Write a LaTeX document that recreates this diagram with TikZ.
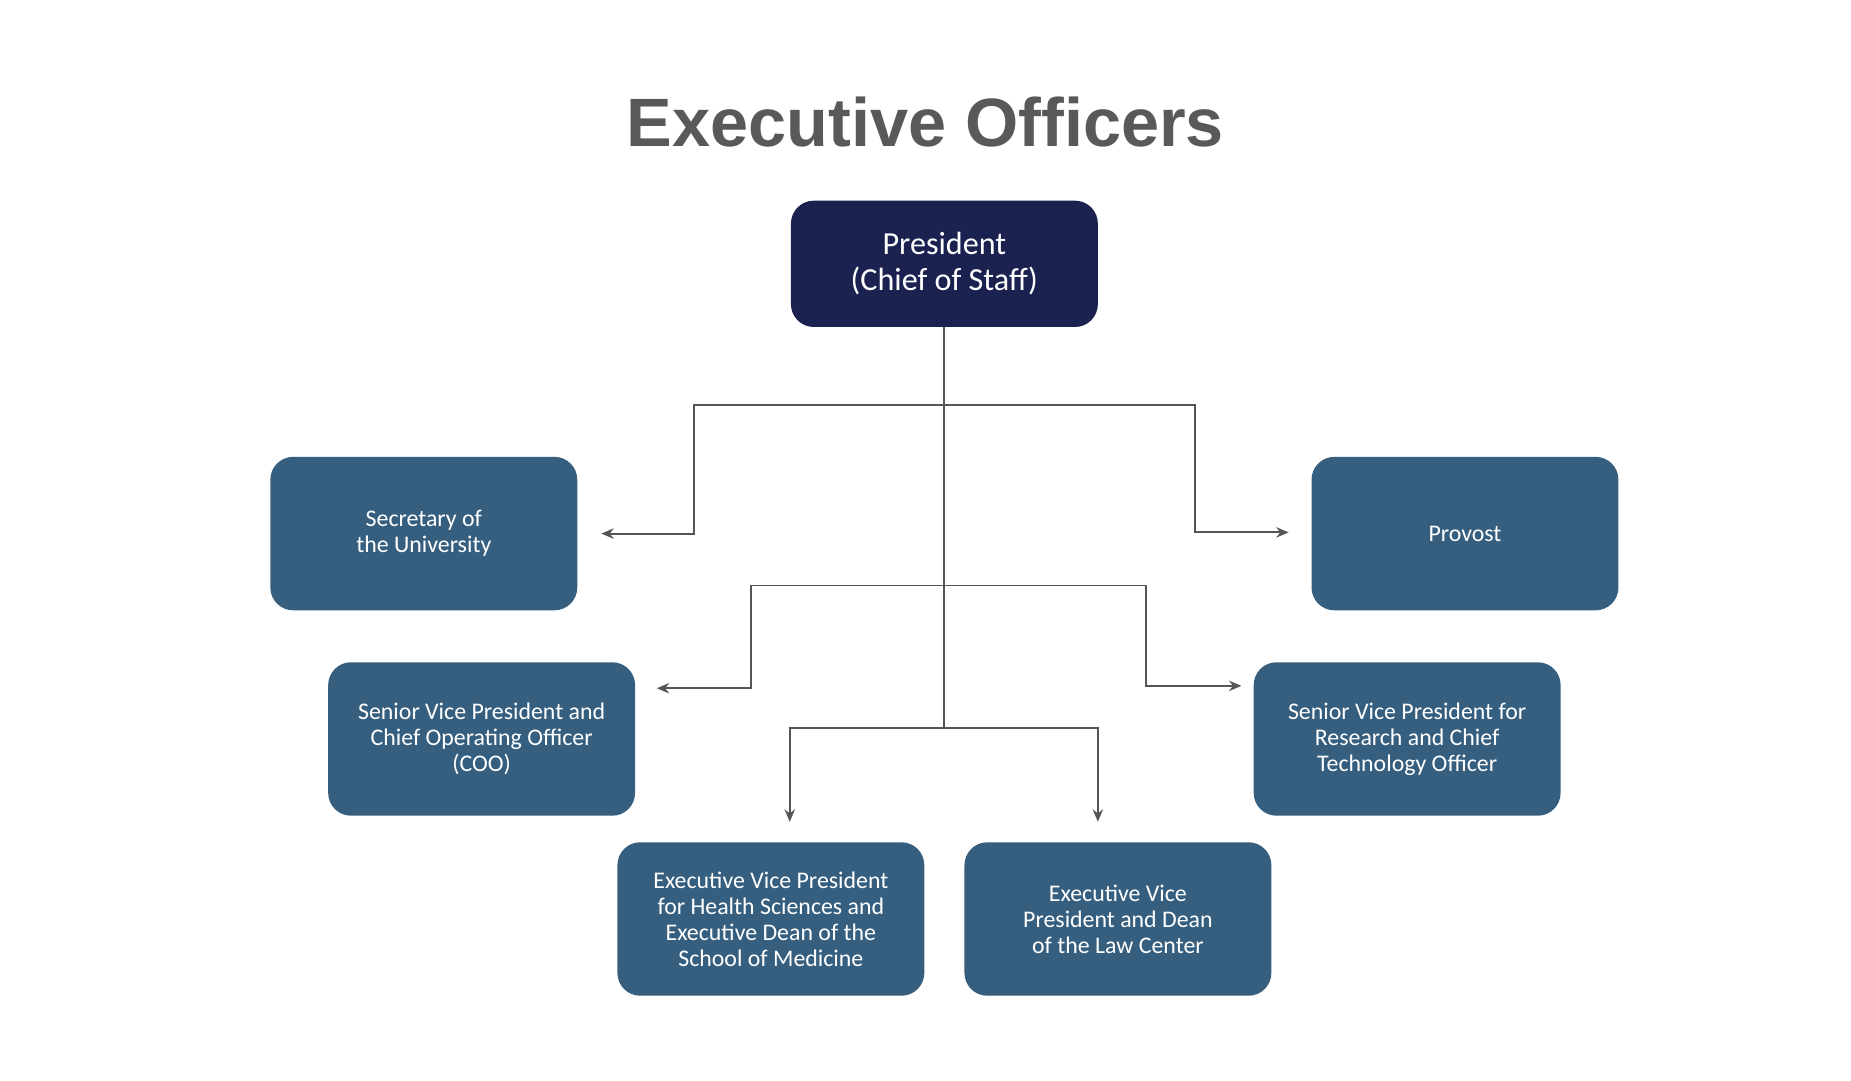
\documentclass[tikz,border=0pt]{standalone}
\usepackage{fontspec}
\setmainfont{Carlito}
\newfontfamily\titlefont{Liberation Sans}
\usetikzlibrary{calc,arrows.meta}
\definecolor{navy}{HTML}{1B2250}
\definecolor{boxc}{HTML}{365F7F}
\definecolor{linec}{HTML}{555555}
\definecolor{titlec}{HTML}{595959}
\begin{document}
\begin{tikzpicture}[x=0.02cm,y=-0.02cm,
  box/.style={fill=boxc,rounded corners=11pt,minimum width=260*0.02cm,minimum height=130*0.02cm,text=white,align=center,font=\fontsize{11.5}{12.5}\selectfont,inner sep=0pt},
  conn/.style={draw=linec,line width=0.9pt},
  arr/.style={conn,-{Stealth[length=6pt,width=5pt]}}]
\useasboundingbox (0,0) rectangle (1568,915);
\node[font=\titlefont\bfseries\fontsize{33}{36}\selectfont,text=titlec] (title) at (784,103) {Executive Officers};
\node[box,fill=navy,minimum height=107*0.02cm,font=\fontsize{15.5}{17.5}\selectfont] (pres) at (800,223.5) {President\\(Chief of Staff)};
\node[box] (sec) at (359,452) {Secretary of\\the University};
\node[box] (prov) at (1241,452) {Provost};
\node[box] (coo) at (408,626) {Senior Vice President and\\Chief Operating Officer\\(COO)};
\node[box] (res) at (1192,626) {Senior Vice President for\\Research and Chief\\Technology Officer};
\node[box] (hs) at (653,778.5) {Executive Vice President\\for Health Sciences and\\Executive Dean of the\\School of Medicine};
\node[box] (law) at (947,778.5) {Executive Vice\\President and Dean\\of the Law Center};
\coordinate (j3) at (800,617);
\draw[conn] (pres.south) -- (j3);
\draw[arr] (800,343) -| (588,452) -- ($(sec.east)+(20,0)$);
\draw[arr] (800,343) -| (1012,451) -- ($(prov.west)+(-19,-1)$);
\draw[arr] (800,496) -| (636,583) -- ($(coo.east)+(18,-43)$);
\draw[arr] (800,496) -| (971,581) -- ($(res.west)+(-10,-45)$);
\draw[arr] (j3) -| ($(hs.north)+(16,-17)$);
\draw[arr] (j3) -| ($(law.north)+(-17,-17)$);
\end{tikzpicture}
\end{document}
